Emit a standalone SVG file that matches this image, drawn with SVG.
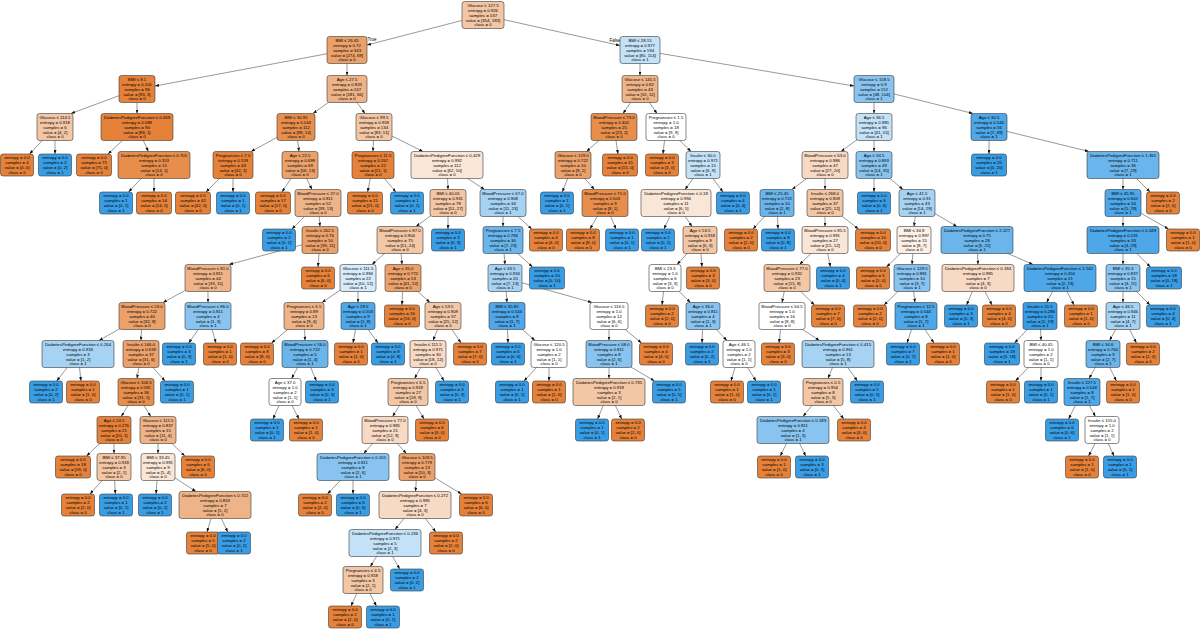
<svg xmlns="http://www.w3.org/2000/svg" width="1200" height="629" viewBox="0 0 1200 629">
<style>
rect{rx:2.5px;stroke:#3a3a3a;stroke-width:0.6}
text{font-family:"Liberation Sans",Arial,sans-serif;font-size:4.3px;text-anchor:middle;fill:#000}
.e line{stroke:#333;stroke-width:0.5;marker-end:url(#ah)}
.O10 rect{fill:#e58139}.O9 rect{fill:#e88e4d}.O75 rect{fill:#eca06a}.O6 rect{fill:#efb388}.O45 rect{fill:#f3c6a6}.O3 rect{fill:#f7d9c4}.O2 rect{fill:#fae6d7}.O1 rect{fill:#fcf0e7}.W rect{fill:#fff}
.B10 rect{fill:#399de5}.B9 rect{fill:#4da7e8}.B75 rect{fill:#6ab6ec}.B6 rect{fill:#88c4ef}.B45 rect{fill:#a6d3f3}.B3 rect{fill:#c4e2f7}.B2 rect{fill:#d7ebfa}
.lbl{font-size:4.5px}
</style>
<defs><marker id="ah" markerUnits="userSpaceOnUse" markerWidth="4" markerHeight="3" refX="4" refY="1.5" orient="auto"><path d="M0,0L4,1.5L0,3z" fill="#111"/></marker></defs>
<rect x="0" y="0" width="1200" height="629" style="fill:#fff;stroke:none;rx:0"/>
<g id="connectors" class="e">
<line x1="483" y1="15" x2="367" y2="45"/><line x1="483" y1="15" x2="620" y2="45.5"/>
<line x1="347" y1="50" x2="155" y2="86"/><line x1="347" y1="50" x2="347" y2="75.5"/>
<line x1="640" y1="50" x2="640" y2="75.5"/><line x1="640" y1="50" x2="854" y2="86"/>
<line x1="137" y1="89" x2="71" y2="113.5"/><line x1="137" y1="89" x2="137" y2="113.5"/>
<line x1="347" y1="89" x2="313" y2="113.5"/><line x1="347" y1="89" x2="365" y2="113.5"/>
<line x1="640" y1="89" x2="623" y2="113.5"/><line x1="640" y1="89" x2="657" y2="113.5"/>
<line x1="874" y1="89" x2="874" y2="113.5"/><line x1="874" y1="89" x2="973" y2="113.5"/>
<line x1="55" y1="127" x2="29.5" y2="154"/><line x1="55" y1="127" x2="55" y2="154"/>
<line x1="137" y1="127" x2="108" y2="154"/><line x1="137" y1="127" x2="148.4" y2="151.5"/>
<line x1="296" y1="127" x2="251" y2="151.5"/><line x1="296" y1="127" x2="299" y2="151.5"/>
<line x1="374" y1="127" x2="373" y2="151.5"/><line x1="374" y1="127" x2="423" y2="151.5"/>
<line x1="614" y1="127" x2="586.5" y2="151.5"/><line x1="614" y1="127" x2="618" y2="154"/>
<line x1="666" y1="127" x2="663" y2="154"/><line x1="666" y1="127" x2="691" y2="151.5"/>
<line x1="874" y1="127" x2="841" y2="151.5"/><line x1="874" y1="127" x2="874" y2="151.5"/>
<line x1="989" y1="127" x2="989" y2="154"/><line x1="989" y1="127" x2="1089" y2="151.5"/>
<line x1="154" y1="165" x2="128.5" y2="192"/><line x1="154" y1="165" x2="154" y2="192"/>
<line x1="233" y1="165" x2="206" y2="192"/><line x1="233" y1="165" x2="233" y2="192"/>
<line x1="300" y1="165" x2="282" y2="192"/><line x1="300" y1="165" x2="312" y2="189.5"/>
<line x1="373" y1="165" x2="367.6" y2="192"/><line x1="373" y1="165" x2="395.8" y2="192"/>
<line x1="447" y1="165" x2="448" y2="189.5"/><line x1="447" y1="165" x2="484.5" y2="189.5"/>
<line x1="573" y1="165" x2="562.3" y2="192"/><line x1="573" y1="165" x2="594.4" y2="189.5"/>
<line x1="703" y1="165" x2="685" y2="189.5"/><line x1="703" y1="165" x2="723" y2="192"/>
<line x1="825" y1="165" x2="792" y2="189.5"/><line x1="825" y1="165" x2="825" y2="189.5"/>
<line x1="874" y1="165" x2="874" y2="192"/><line x1="874" y1="165" x2="903" y2="189.5"/>
<line x1="1123" y1="165" x2="1123" y2="189.5"/><line x1="1123" y1="165" x2="1150" y2="192"/>
<line x1="318" y1="203" x2="292" y2="229"/><line x1="318" y1="203" x2="320" y2="226.5"/>
<line x1="448" y1="203" x2="416" y2="226.5"/><line x1="448" y1="203" x2="448" y2="229"/>
<line x1="503" y1="203" x2="503" y2="226.5"/><line x1="503" y1="203" x2="531.8" y2="229"/>
<line x1="605" y1="203" x2="590" y2="229"/><line x1="605" y1="203" x2="616" y2="229"/>
<line x1="676" y1="203" x2="664" y2="229"/><line x1="676" y1="203" x2="692" y2="226.5"/>
<line x1="777" y1="203" x2="753" y2="229"/><line x1="777" y1="203" x2="778" y2="229"/>
<line x1="825" y1="203" x2="825" y2="226.5"/><line x1="825" y1="203" x2="858.5" y2="229"/>
<line x1="917" y1="203" x2="914" y2="226.5"/><line x1="917" y1="203" x2="957" y2="226.5"/>
<line x1="1123" y1="203" x2="1123" y2="226.5"/><line x1="1123" y1="203" x2="1168.5" y2="229"/>
<line x1="320" y1="240" x2="229" y2="264.5"/><line x1="320" y1="240" x2="318" y2="267"/>
<line x1="400" y1="240" x2="372" y2="264.5"/><line x1="400" y1="240" x2="402" y2="264.5"/>
<line x1="503" y1="240" x2="505" y2="264.5"/><line x1="503" y1="240" x2="532.5" y2="267"/>
<line x1="700" y1="240" x2="677" y2="264.5"/><line x1="700" y1="240" x2="702" y2="267"/>
<line x1="825" y1="240" x2="799.5" y2="264.5"/><line x1="825" y1="240" x2="830.4" y2="267"/>
<line x1="914" y1="240" x2="886.5" y2="267"/><line x1="914" y1="240" x2="912" y2="264.5"/>
<line x1="977" y1="240" x2="978" y2="264.5"/><line x1="977" y1="240" x2="1033" y2="264.5"/>
<line x1="1123" y1="240" x2="1123" y2="264.5"/><line x1="1123" y1="240" x2="1150.5" y2="267"/>
<line x1="208" y1="278" x2="163" y2="302.5"/><line x1="208" y1="278" x2="208" y2="302.5"/>
<line x1="358" y1="278" x2="322" y2="302.5"/><line x1="358" y1="278" x2="358" y2="302.5"/>
<line x1="403" y1="278" x2="402" y2="305"/><line x1="403" y1="278" x2="430" y2="302.5"/>
<line x1="505" y1="278" x2="507" y2="302.5"/><line x1="505" y1="278" x2="592" y2="302.5"/>
<line x1="665" y1="278" x2="662" y2="305"/><line x1="665" y1="278" x2="690.5" y2="302.5"/>
<line x1="787" y1="278" x2="782" y2="302.5"/><line x1="787" y1="278" x2="814.5" y2="305"/>
<line x1="912" y1="278" x2="884" y2="305"/><line x1="912" y1="278" x2="915" y2="302.5"/>
<line x1="978" y1="278" x2="966.6" y2="305"/><line x1="978" y1="278" x2="992" y2="305"/>
<line x1="1060" y1="278" x2="1046.6" y2="302.5"/><line x1="1060" y1="278" x2="1074" y2="305"/>
<line x1="1123" y1="278" x2="1123" y2="302.5"/><line x1="1123" y1="278" x2="1150" y2="305"/>
<line x1="142" y1="316" x2="99" y2="340.5"/><line x1="142" y1="316" x2="141" y2="340.5"/>
<line x1="208" y1="316" x2="188.6" y2="343"/><line x1="208" y1="316" x2="216" y2="343"/>
<line x1="304" y1="316" x2="271.5" y2="343"/><line x1="304" y1="316" x2="305" y2="340.5"/>
<line x1="358" y1="316" x2="353" y2="343"/><line x1="358" y1="316" x2="378" y2="343"/>
<line x1="443" y1="316" x2="433" y2="340.5"/><line x1="443" y1="316" x2="461" y2="343"/>
<line x1="507" y1="316" x2="508" y2="343"/><line x1="507" y1="316" x2="535" y2="340.5"/>
<line x1="609" y1="316" x2="609" y2="340.5"/><line x1="609" y1="316" x2="641.5" y2="343"/>
<line x1="703" y1="316" x2="702" y2="343"/><line x1="703" y1="316" x2="727" y2="340.5"/>
<line x1="782" y1="316" x2="779" y2="343"/><line x1="782" y1="316" x2="819.5" y2="340.5"/>
<line x1="916" y1="316" x2="907" y2="343"/><line x1="916" y1="316" x2="934" y2="343"/>
<line x1="1040" y1="316" x2="1014.5" y2="343"/><line x1="1040" y1="316" x2="1041" y2="340.5"/>
<line x1="1123" y1="316" x2="1109.6" y2="340.5"/><line x1="1123" y1="316" x2="1136.4" y2="343"/>
<line x1="78" y1="354" x2="56.6" y2="381"/><line x1="78" y1="354" x2="81" y2="381"/>
<line x1="141" y1="354" x2="137" y2="378.5"/><line x1="141" y1="354" x2="165" y2="381"/>
<line x1="305" y1="354" x2="291.6" y2="378.5"/><line x1="305" y1="354" x2="316.4" y2="381"/>
<line x1="428" y1="354" x2="414.6" y2="378.5"/><line x1="428" y1="354" x2="444" y2="381"/>
<line x1="549" y1="354" x2="524" y2="381"/><line x1="549" y1="354" x2="549" y2="381"/>
<line x1="609" y1="354" x2="609" y2="378.5"/><line x1="609" y1="354" x2="654.5" y2="381"/>
<line x1="739" y1="354" x2="731" y2="381"/><line x1="739" y1="354" x2="756" y2="381"/>
<line x1="838" y1="354" x2="828" y2="378.5"/><line x1="838" y1="354" x2="857.4" y2="381"/>
<line x1="1041" y1="354" x2="1015.5" y2="381"/><line x1="1041" y1="354" x2="1041" y2="381"/>
<line x1="1103" y1="354" x2="1089" y2="378.5"/><line x1="1103" y1="354" x2="1116.4" y2="381"/>
<line x1="136" y1="392" x2="121.3" y2="416.5"/><line x1="136" y1="392" x2="150.7" y2="416.5"/>
<line x1="285" y1="392" x2="273" y2="419"/><line x1="285" y1="392" x2="299" y2="419"/>
<line x1="408" y1="392" x2="392.6" y2="416.5"/><line x1="408" y1="392" x2="424" y2="419"/>
<line x1="609" y1="392" x2="597.6" y2="419"/><line x1="609" y1="392" x2="621.7" y2="419"/>
<line x1="823" y1="392" x2="803" y2="416.5"/><line x1="823" y1="392" x2="843.8" y2="419"/>
<line x1="1082" y1="392" x2="1068.6" y2="419"/><line x1="1082" y1="392" x2="1095.4" y2="416.5"/>
<line x1="114" y1="430" x2="86.5" y2="456"/><line x1="114" y1="430" x2="114" y2="453.5"/>
<line x1="158" y1="430" x2="158" y2="453.5"/><line x1="158" y1="430" x2="184.8" y2="456"/>
<line x1="385" y1="430" x2="363.6" y2="453.5"/><line x1="385" y1="430" x2="406.4" y2="453.5"/>
<line x1="793" y1="430" x2="780.3" y2="456"/><line x1="793" y1="430" x2="805.7" y2="456"/>
<line x1="1102" y1="430" x2="1088.6" y2="456"/><line x1="1102" y1="430" x2="1114" y2="456"/>
<line x1="114" y1="467" x2="90" y2="494"/><line x1="114" y1="467" x2="115.3" y2="494"/>
<line x1="158" y1="467" x2="156" y2="494"/><line x1="158" y1="467" x2="196" y2="491.5"/>
<line x1="353" y1="467" x2="327.5" y2="494"/><line x1="353" y1="467" x2="353" y2="494"/>
<line x1="417" y1="467" x2="415.6" y2="491.5"/><line x1="417" y1="467" x2="461.5" y2="494"/>
<line x1="215" y1="505" x2="207" y2="532"/><line x1="215" y1="505" x2="227.7" y2="532"/>
<line x1="415" y1="505" x2="395" y2="529.5"/><line x1="415" y1="505" x2="435.8" y2="532"/>
<line x1="385" y1="543" x2="370.3" y2="566.5"/><line x1="385" y1="543" x2="399.7" y2="569"/>
<line x1="363" y1="580" x2="351" y2="606"/><line x1="363" y1="580" x2="376.4" y2="606"/>
</g>
<text class="lbl" x="372" y="41">True</text>
<text class="lbl" x="615" y="42">False</text>
<g id="nodes">
<g id="n0" class="O45" transform="translate(483,15)"><rect x="-21" y="-13.5" width="42" height="27"/><text><tspan x="0" y="-8.2">Glucose ≤ 127.5</tspan><tspan x="0" y="-3.3">entropy = 0.926</tspan><tspan x="0" y="1.6">samples = 537</tspan><tspan x="0" y="6.5">value = [354, 183]</tspan><tspan x="0" y="11.4">class = 0</tspan></text></g>
<g id="n1" class="O75" transform="translate(347,50)"><rect x="-20" y="-13.5" width="40" height="27"/><text><tspan x="0" y="-8.2">BMI ≤ 26.45</tspan><tspan x="0" y="-3.3">entropy = 0.72</tspan><tspan x="0" y="1.6">samples = 343</tspan><tspan x="0" y="6.5">value = [274, 69]</tspan><tspan x="0" y="11.4">class = 0</tspan></text></g>
<g id="n2" class="B3" transform="translate(640,50)"><rect x="-20" y="-13.5" width="40" height="27"/><text><tspan x="0" y="-8.2">BMI ≤ 28.15</tspan><tspan x="0" y="-3.3">entropy = 0.977</tspan><tspan x="0" y="1.6">samples = 194</tspan><tspan x="0" y="6.5">value = [80, 114]</tspan><tspan x="0" y="11.4">class = 1</tspan></text></g>
<g id="n3" class="O10" transform="translate(137,89)"><rect x="-18" y="-13.5" width="36" height="27"/><text><tspan x="0" y="-8.2">BMI ≤ 9.1</tspan><tspan x="0" y="-3.3">entropy = 0.201</tspan><tspan x="0" y="1.6">samples = 96</tspan><tspan x="0" y="6.5">value = [93, 3]</tspan><tspan x="0" y="11.4">class = 0</tspan></text></g>
<g id="n4" class="O6" transform="translate(347,89)"><rect x="-20" y="-13.5" width="40" height="27"/><text><tspan x="0" y="-8.2">Age ≤ 27.5</tspan><tspan x="0" y="-3.3">entropy = 0.833</tspan><tspan x="0" y="1.6">samples = 247</tspan><tspan x="0" y="6.5">value = [181, 66]</tspan><tspan x="0" y="11.4">class = 0</tspan></text></g>
<g id="n5" class="O6" transform="translate(640,89)"><rect x="-18" y="-13.5" width="36" height="27"/><text><tspan x="0" y="-8.2">Glucose ≤ 145.5</tspan><tspan x="0" y="-3.3">entropy = 0.82</tspan><tspan x="0" y="1.6">samples = 43</tspan><tspan x="0" y="6.5">value = [32, 11]</tspan><tspan x="0" y="11.4">class = 0</tspan></text></g>
<g id="n6" class="B6" transform="translate(874,89)"><rect x="-20" y="-13.5" width="40" height="27"/><text><tspan x="0" y="-8.2">Glucose ≤ 158.5</tspan><tspan x="0" y="-3.3">entropy = 0.9</tspan><tspan x="0" y="1.6">samples = 152</tspan><tspan x="0" y="6.5">value = [48, 104]</tspan><tspan x="0" y="11.4">class = 1</tspan></text></g>
<g id="n7" class="O45" transform="translate(55,127)"><rect x="-18" y="-13.5" width="36" height="27"/><text><tspan x="0" y="-8.2">Glucose ≤ 114.5</tspan><tspan x="0" y="-3.3">entropy = 0.918</tspan><tspan x="0" y="1.6">samples = 6</tspan><tspan x="0" y="6.5">value = [4, 2]</tspan><tspan x="0" y="11.4">class = 0</tspan></text></g>
<g id="n8" class="O10" transform="translate(137,127)"><rect x="-36" y="-13.5" width="72" height="27"/><text><tspan x="0" y="-8.2">DiabetesPedigreeFunction ≤ 0.669</tspan><tspan x="0" y="-3.3">entropy = 0.088</tspan><tspan x="0" y="1.6">samples = 90</tspan><tspan x="0" y="6.5">value = [89, 1]</tspan><tspan x="0" y="11.4">class = 0</tspan></text></g>
<g id="n9" class="O9" transform="translate(296,127)"><rect x="-19" y="-13.5" width="38" height="27"/><text><tspan x="0" y="-8.2">BMI ≤ 30.95</tspan><tspan x="0" y="-3.3">entropy = 0.544</tspan><tspan x="0" y="1.6">samples = 112</tspan><tspan x="0" y="6.5">value = [98, 14]</tspan><tspan x="0" y="11.4">class = 0</tspan></text></g>
<g id="n10" class="O45" transform="translate(374,127)"><rect x="-18" y="-13.5" width="36" height="27"/><text><tspan x="0" y="-8.2">Glucose ≤ 99.5</tspan><tspan x="0" y="-3.3">entropy = 0.958</tspan><tspan x="0" y="1.6">samples = 134</tspan><tspan x="0" y="6.5">value = [83, 51]</tspan><tspan x="0" y="11.4">class = 0</tspan></text></g>
<g id="n11" class="O9" transform="translate(614,127)"><rect x="-23" y="-13.5" width="46" height="27"/><text><tspan x="0" y="-8.2">BloodPressure ≤ 73.0</tspan><tspan x="0" y="-3.3">entropy = 0.402</tspan><tspan x="0" y="1.6">samples = 25</tspan><tspan x="0" y="6.5">value = [23, 2]</tspan><tspan x="0" y="11.4">class = 0</tspan></text></g>
<g id="n12" class="W" transform="translate(666,127)"><rect x="-20" y="-13.5" width="40" height="27"/><text><tspan x="0" y="-8.2">Pregnancies ≤ 1.5</tspan><tspan x="0" y="-3.3">entropy = 1.0</tspan><tspan x="0" y="1.6">samples = 18</tspan><tspan x="0" y="6.5">value = [9, 9]</tspan><tspan x="0" y="11.4">class = 0</tspan></text></g>
<g id="n13" class="B3" transform="translate(874,127)"><rect x="-18" y="-13.5" width="36" height="27"/><text><tspan x="0" y="-8.2">Age ≤ 36.5</tspan><tspan x="0" y="-3.3">entropy = 0.985</tspan><tspan x="0" y="1.6">samples = 96</tspan><tspan x="0" y="6.5">value = [41, 55]</tspan><tspan x="0" y="11.4">class = 1</tspan></text></g>
<g id="n14" class="B9" transform="translate(989,127)"><rect x="-18" y="-13.5" width="36" height="27"/><text><tspan x="0" y="-8.2">Age ≤ 30.5</tspan><tspan x="0" y="-3.3">entropy = 0.544</tspan><tspan x="0" y="1.6">samples = 56</tspan><tspan x="0" y="6.5">value = [7, 49]</tspan><tspan x="0" y="11.4">class = 1</tspan></text></g>
<g id="n15" class="O10" transform="translate(17,165)"><rect x="-16.5" y="-11" width="33" height="22"/><text><tspan x="0" y="-5.9">entropy = 0.0</tspan><tspan x="0" y="-1">samples = 4</tspan><tspan x="0" y="3.9">value = [4, 0]</tspan><tspan x="0" y="8.8">class = 0</tspan></text></g>
<g id="n16" class="B10" transform="translate(55,165)"><rect x="-16.5" y="-11" width="33" height="22"/><text><tspan x="0" y="-5.9">entropy = 0.0</tspan><tspan x="0" y="-1">samples = 2</tspan><tspan x="0" y="3.9">value = [0, 2]</tspan><tspan x="0" y="8.8">class = 1</tspan></text></g>
<g id="n17" class="O10" transform="translate(94,165)"><rect x="-17.5" y="-11" width="35" height="22"/><text><tspan x="0" y="-5.9">entropy = 0.0</tspan><tspan x="0" y="-1">samples = 75</tspan><tspan x="0" y="3.9">value = [75, 0]</tspan><tspan x="0" y="8.8">class = 0</tspan></text></g>
<g id="n18" class="O9" transform="translate(154,165)"><rect x="-36" y="-13.5" width="72" height="27"/><text><tspan x="0" y="-8.2">DiabetesPedigreeFunction ≤ 0.705</tspan><tspan x="0" y="-3.3">entropy = 0.353</tspan><tspan x="0" y="1.6">samples = 15</tspan><tspan x="0" y="6.5">value = [14, 1]</tspan><tspan x="0" y="11.4">class = 0</tspan></text></g>
<g id="n19" class="O10" transform="translate(233,165)"><rect x="-20" y="-13.5" width="40" height="27"/><text><tspan x="0" y="-8.2">Pregnancies ≤ 7.0</tspan><tspan x="0" y="-3.3">entropy = 0.159</tspan><tspan x="0" y="1.6">samples = 43</tspan><tspan x="0" y="6.5">value = [42, 1]</tspan><tspan x="0" y="11.4">class = 0</tspan></text></g>
<g id="n20" class="O75" transform="translate(300,165)"><rect x="-18" y="-13.5" width="36" height="27"/><text><tspan x="0" y="-8.2">Age ≤ 22.5</tspan><tspan x="0" y="-3.3">entropy = 0.699</tspan><tspan x="0" y="1.6">samples = 69</tspan><tspan x="0" y="6.5">value = [56, 13]</tspan><tspan x="0" y="11.4">class = 0</tspan></text></g>
<g id="n21" class="O10" transform="translate(373,165)"><rect x="-21" y="-13.5" width="42" height="27"/><text><tspan x="0" y="-8.2">Pregnancies ≤ 11.5</tspan><tspan x="0" y="-3.3">entropy = 0.267</tspan><tspan x="0" y="1.6">samples = 22</tspan><tspan x="0" y="6.5">value = [21, 1]</tspan><tspan x="0" y="11.4">class = 0</tspan></text></g>
<g id="n22" class="O2" transform="translate(447,165)"><rect x="-36" y="-13.5" width="72" height="27"/><text><tspan x="0" y="-8.2">DiabetesPedigreeFunction ≤ 0.429</tspan><tspan x="0" y="-3.3">entropy = 0.992</tspan><tspan x="0" y="1.6">samples = 112</tspan><tspan x="0" y="6.5">value = [62, 50]</tspan><tspan x="0" y="11.4">class = 0</tspan></text></g>
<g id="n23" class="O75" transform="translate(573,165)"><rect x="-18" y="-13.5" width="36" height="27"/><text><tspan x="0" y="-8.2">Glucose ≤ 129.0</tspan><tspan x="0" y="-3.3">entropy = 0.722</tspan><tspan x="0" y="1.6">samples = 10</tspan><tspan x="0" y="6.5">value = [8, 2]</tspan><tspan x="0" y="11.4">class = 0</tspan></text></g>
<g id="n24" class="O10" transform="translate(620,165)"><rect x="-17.5" y="-11" width="35" height="22"/><text><tspan x="0" y="-5.9">entropy = 0.0</tspan><tspan x="0" y="-1">samples = 15</tspan><tspan x="0" y="3.9">value = [15, 0]</tspan><tspan x="0" y="8.8">class = 0</tspan></text></g>
<g id="n25" class="O10" transform="translate(662,165)"><rect x="-16.5" y="-11" width="33" height="22"/><text><tspan x="0" y="-5.9">entropy = 0.0</tspan><tspan x="0" y="-1">samples = 3</tspan><tspan x="0" y="3.9">value = [3, 0]</tspan><tspan x="0" y="8.8">class = 0</tspan></text></g>
<g id="n26" class="B3" transform="translate(703,165)"><rect x="-17" y="-13.5" width="34" height="27"/><text><tspan x="0" y="-8.2">Insulin ≤ 60.0</tspan><tspan x="0" y="-3.3">entropy = 0.971</tspan><tspan x="0" y="1.6">samples = 15</tspan><tspan x="0" y="6.5">value = [6, 9]</tspan><tspan x="0" y="11.4">class = 1</tspan></text></g>
<g id="n27" class="O3" transform="translate(825,165)"><rect x="-23" y="-13.5" width="46" height="27"/><text><tspan x="0" y="-8.2">BloodPressure ≤ 63.0</tspan><tspan x="0" y="-3.3">entropy = 0.986</tspan><tspan x="0" y="1.6">samples = 47</tspan><tspan x="0" y="6.5">value = [27, 20]</tspan><tspan x="0" y="11.4">class = 0</tspan></text></g>
<g id="n28" class="B6" transform="translate(874,165)"><rect x="-18" y="-13.5" width="36" height="27"/><text><tspan x="0" y="-8.2">Age ≤ 34.5</tspan><tspan x="0" y="-3.3">entropy = 0.863</tspan><tspan x="0" y="1.6">samples = 49</tspan><tspan x="0" y="6.5">value = [14, 35]</tspan><tspan x="0" y="11.4">class = 1</tspan></text></g>
<g id="n29" class="B10" transform="translate(989,165)"><rect x="-17.5" y="-11" width="35" height="22"/><text><tspan x="0" y="-5.9">entropy = 0.0</tspan><tspan x="0" y="-1">samples = 20</tspan><tspan x="0" y="3.9">value = [0, 20]</tspan><tspan x="0" y="8.8">class = 1</tspan></text></g>
<g id="n30" class="B75" transform="translate(1123,165)"><rect x="-36" y="-13.5" width="72" height="27"/><text><tspan x="0" y="-8.2">DiabetesPedigreeFunction ≤ 1.361</tspan><tspan x="0" y="-3.3">entropy = 0.711</tspan><tspan x="0" y="1.6">samples = 36</tspan><tspan x="0" y="6.5">value = [7, 29]</tspan><tspan x="0" y="11.4">class = 1</tspan></text></g>
<g id="n31" class="B10" transform="translate(116,203)"><rect x="-16.5" y="-11" width="33" height="22"/><text><tspan x="0" y="-5.9">entropy = 0.0</tspan><tspan x="0" y="-1">samples = 1</tspan><tspan x="0" y="3.9">value = [0, 1]</tspan><tspan x="0" y="8.8">class = 1</tspan></text></g>
<g id="n32" class="O10" transform="translate(154,203)"><rect x="-17.5" y="-11" width="35" height="22"/><text><tspan x="0" y="-5.9">entropy = 0.0</tspan><tspan x="0" y="-1">samples = 14</tspan><tspan x="0" y="3.9">value = [14, 0]</tspan><tspan x="0" y="8.8">class = 0</tspan></text></g>
<g id="n33" class="O10" transform="translate(193,203)"><rect x="-17.5" y="-11" width="35" height="22"/><text><tspan x="0" y="-5.9">entropy = 0.0</tspan><tspan x="0" y="-1">samples = 42</tspan><tspan x="0" y="3.9">value = [42, 0]</tspan><tspan x="0" y="8.8">class = 0</tspan></text></g>
<g id="n34" class="B10" transform="translate(233,203)"><rect x="-16.5" y="-11" width="33" height="22"/><text><tspan x="0" y="-5.9">entropy = 0.0</tspan><tspan x="0" y="-1">samples = 1</tspan><tspan x="0" y="3.9">value = [0, 1]</tspan><tspan x="0" y="8.8">class = 1</tspan></text></g>
<g id="n35" class="O10" transform="translate(273,203)"><rect x="-17.5" y="-11" width="35" height="22"/><text><tspan x="0" y="-5.9">entropy = 0.0</tspan><tspan x="0" y="-1">samples = 17</tspan><tspan x="0" y="3.9">value = [17, 0]</tspan><tspan x="0" y="8.8">class = 0</tspan></text></g>
<g id="n36" class="O6" transform="translate(318,203)"><rect x="-23" y="-13.5" width="46" height="27"/><text><tspan x="0" y="-8.2">BloodPressure ≤ 37.0</tspan><tspan x="0" y="-3.3">entropy = 0.811</tspan><tspan x="0" y="1.6">samples = 52</tspan><tspan x="0" y="6.5">value = [39, 13]</tspan><tspan x="0" y="11.4">class = 0</tspan></text></g>
<g id="n37" class="O10" transform="translate(365,203)"><rect x="-17.5" y="-11" width="35" height="22"/><text><tspan x="0" y="-5.9">entropy = 0.0</tspan><tspan x="0" y="-1">samples = 21</tspan><tspan x="0" y="3.9">value = [21, 0]</tspan><tspan x="0" y="8.8">class = 0</tspan></text></g>
<g id="n38" class="B10" transform="translate(407,203)"><rect x="-16.5" y="-11" width="33" height="22"/><text><tspan x="0" y="-5.9">entropy = 0.0</tspan><tspan x="0" y="-1">samples = 1</tspan><tspan x="0" y="3.9">value = [0, 1]</tspan><tspan x="0" y="8.8">class = 1</tspan></text></g>
<g id="n39" class="O45" transform="translate(448,203)"><rect x="-18" y="-13.5" width="36" height="27"/><text><tspan x="0" y="-8.2">BMI ≤ 40.05</tspan><tspan x="0" y="-3.3">entropy = 0.931</tspan><tspan x="0" y="1.6">samples = 78</tspan><tspan x="0" y="6.5">value = [51, 27]</tspan><tspan x="0" y="11.4">class = 0</tspan></text></g>
<g id="n40" class="B45" transform="translate(503,203)"><rect x="-23" y="-13.5" width="46" height="27"/><text><tspan x="0" y="-8.2">BloodPressure ≤ 67.0</tspan><tspan x="0" y="-3.3">entropy = 0.908</tspan><tspan x="0" y="1.6">samples = 34</tspan><tspan x="0" y="6.5">value = [11, 23]</tspan><tspan x="0" y="11.4">class = 1</tspan></text></g>
<g id="n41" class="B10" transform="translate(557,203)"><rect x="-16.5" y="-11" width="33" height="22"/><text><tspan x="0" y="-5.9">entropy = 0.0</tspan><tspan x="0" y="-1">samples = 1</tspan><tspan x="0" y="3.9">value = [0, 1]</tspan><tspan x="0" y="8.8">class = 1</tspan></text></g>
<g id="n42" class="O9" transform="translate(605,203)"><rect x="-23" y="-13.5" width="46" height="27"/><text><tspan x="0" y="-8.2">BloodPressure ≤ 71.0</tspan><tspan x="0" y="-3.3">entropy = 0.503</tspan><tspan x="0" y="1.6">samples = 9</tspan><tspan x="0" y="6.5">value = [8, 1]</tspan><tspan x="0" y="11.4">class = 0</tspan></text></g>
<g id="n43" class="O2" transform="translate(676,203)"><rect x="-35" y="-13.5" width="70" height="27"/><text><tspan x="0" y="-8.2">DiabetesPedigreeFunction ≤ 0.18</tspan><tspan x="0" y="-3.3">entropy = 0.994</tspan><tspan x="0" y="1.6">samples = 11</tspan><tspan x="0" y="6.5">value = [6, 5]</tspan><tspan x="0" y="11.4">class = 0</tspan></text></g>
<g id="n44" class="B10" transform="translate(733,203)"><rect x="-16.5" y="-11" width="33" height="22"/><text><tspan x="0" y="-5.9">entropy = 0.0</tspan><tspan x="0" y="-1">samples = 4</tspan><tspan x="0" y="3.9">value = [0, 4]</tspan><tspan x="0" y="8.8">class = 1</tspan></text></g>
<g id="n45" class="B75" transform="translate(777,203)"><rect x="-17" y="-13.5" width="34" height="27"/><text><tspan x="0" y="-8.2">BMI ≤ 25.45</tspan><tspan x="0" y="-3.3">entropy = 0.722</tspan><tspan x="0" y="1.6">samples = 10</tspan><tspan x="0" y="6.5">value = [2, 8]</tspan><tspan x="0" y="11.4">class = 1</tspan></text></g>
<g id="n46" class="O45" transform="translate(825,203)"><rect x="-18" y="-13.5" width="36" height="27"/><text><tspan x="0" y="-8.2">Insulin ≤ 268.0</tspan><tspan x="0" y="-3.3">entropy = 0.909</tspan><tspan x="0" y="1.6">samples = 37</tspan><tspan x="0" y="6.5">value = [25, 12]</tspan><tspan x="0" y="11.4">class = 0</tspan></text></g>
<g id="n47" class="B10" transform="translate(874,203)"><rect x="-16.5" y="-11" width="33" height="22"/><text><tspan x="0" y="-5.9">entropy = 0.0</tspan><tspan x="0" y="-1">samples = 6</tspan><tspan x="0" y="3.9">value = [0, 6]</tspan><tspan x="0" y="8.8">class = 1</tspan></text></g>
<g id="n48" class="B45" transform="translate(917,203)"><rect x="-18" y="-13.5" width="36" height="27"/><text><tspan x="0" y="-8.2">Age ≤ 41.5</tspan><tspan x="0" y="-3.3">entropy = 0.91</tspan><tspan x="0" y="1.6">samples = 43</tspan><tspan x="0" y="6.5">value = [14, 29]</tspan><tspan x="0" y="11.4">class = 1</tspan></text></g>
<g id="n49" class="B9" transform="translate(1123,203)"><rect x="-18" y="-13.5" width="36" height="27"/><text><tspan x="0" y="-8.2">BMI ≤ 45.95</tspan><tspan x="0" y="-3.3">entropy = 0.602</tspan><tspan x="0" y="1.6">samples = 34</tspan><tspan x="0" y="6.5">value = [5, 29]</tspan><tspan x="0" y="11.4">class = 1</tspan></text></g>
<g id="n50" class="O10" transform="translate(1163,203)"><rect x="-16.5" y="-11" width="33" height="22"/><text><tspan x="0" y="-5.9">entropy = 0.0</tspan><tspan x="0" y="-1">samples = 2</tspan><tspan x="0" y="3.9">value = [2, 0]</tspan><tspan x="0" y="8.8">class = 0</tspan></text></g>
<g id="n51" class="B10" transform="translate(279,240)"><rect x="-16.5" y="-11" width="33" height="22"/><text><tspan x="0" y="-5.9">entropy = 0.0</tspan><tspan x="0" y="-1">samples = 2</tspan><tspan x="0" y="3.9">value = [0, 2]</tspan><tspan x="0" y="8.8">class = 1</tspan></text></g>
<g id="n52" class="O75" transform="translate(320,240)"><rect x="-18" y="-13.5" width="36" height="27"/><text><tspan x="0" y="-8.2">Insulin ≤ 262.5</tspan><tspan x="0" y="-3.3">entropy = 0.76</tspan><tspan x="0" y="1.6">samples = 50</tspan><tspan x="0" y="6.5">value = [39, 11]</tspan><tspan x="0" y="11.4">class = 0</tspan></text></g>
<g id="n53" class="O45" transform="translate(400,240)"><rect x="-23" y="-13.5" width="46" height="27"/><text><tspan x="0" y="-8.2">BloodPressure ≤ 87.0</tspan><tspan x="0" y="-3.3">entropy = 0.904</tspan><tspan x="0" y="1.6">samples = 75</tspan><tspan x="0" y="6.5">value = [51, 24]</tspan><tspan x="0" y="11.4">class = 0</tspan></text></g>
<g id="n54" class="B10" transform="translate(448,240)"><rect x="-16.5" y="-11" width="33" height="22"/><text><tspan x="0" y="-5.9">entropy = 0.0</tspan><tspan x="0" y="-1">samples = 3</tspan><tspan x="0" y="3.9">value = [0, 3]</tspan><tspan x="0" y="8.8">class = 1</tspan></text></g>
<g id="n55" class="B75" transform="translate(503,240)"><rect x="-20" y="-13.5" width="40" height="27"/><text><tspan x="0" y="-8.2">Pregnancies ≤ 7.5</tspan><tspan x="0" y="-3.3">entropy = 0.784</tspan><tspan x="0" y="1.6">samples = 30</tspan><tspan x="0" y="6.5">value = [7, 23]</tspan><tspan x="0" y="11.4">class = 1</tspan></text></g>
<g id="n56" class="O10" transform="translate(546,240)"><rect x="-16.5" y="-11" width="33" height="22"/><text><tspan x="0" y="-5.9">entropy = 0.0</tspan><tspan x="0" y="-1">samples = 4</tspan><tspan x="0" y="3.9">value = [4, 0]</tspan><tspan x="0" y="8.8">class = 0</tspan></text></g>
<g id="n57" class="O10" transform="translate(583,240)"><rect x="-16.5" y="-11" width="33" height="22"/><text><tspan x="0" y="-5.9">entropy = 0.0</tspan><tspan x="0" y="-1">samples = 8</tspan><tspan x="0" y="3.9">value = [8, 0]</tspan><tspan x="0" y="8.8">class = 0</tspan></text></g>
<g id="n58" class="B10" transform="translate(622,240)"><rect x="-16.5" y="-11" width="33" height="22"/><text><tspan x="0" y="-5.9">entropy = 0.0</tspan><tspan x="0" y="-1">samples = 1</tspan><tspan x="0" y="3.9">value = [0, 1]</tspan><tspan x="0" y="8.8">class = 1</tspan></text></g>
<g id="n59" class="B10" transform="translate(658,240)"><rect x="-16.5" y="-11" width="33" height="22"/><text><tspan x="0" y="-5.9">entropy = 0.0</tspan><tspan x="0" y="-1">samples = 2</tspan><tspan x="0" y="3.9">value = [0, 2]</tspan><tspan x="0" y="8.8">class = 1</tspan></text></g>
<g id="n60" class="O45" transform="translate(700,240)"><rect x="-17" y="-13.5" width="34" height="27"/><text><tspan x="0" y="-8.2">Age ≤ 53.5</tspan><tspan x="0" y="-3.3">entropy = 0.918</tspan><tspan x="0" y="1.6">samples = 9</tspan><tspan x="0" y="6.5">value = [6, 3]</tspan><tspan x="0" y="11.4">class = 0</tspan></text></g>
<g id="n61" class="O10" transform="translate(741,240)"><rect x="-16.5" y="-11" width="33" height="22"/><text><tspan x="0" y="-5.9">entropy = 0.0</tspan><tspan x="0" y="-1">samples = 2</tspan><tspan x="0" y="3.9">value = [2, 0]</tspan><tspan x="0" y="8.8">class = 0</tspan></text></g>
<g id="n62" class="B10" transform="translate(778,240)"><rect x="-16.5" y="-11" width="33" height="22"/><text><tspan x="0" y="-5.9">entropy = 0.0</tspan><tspan x="0" y="-1">samples = 8</tspan><tspan x="0" y="3.9">value = [0, 8]</tspan><tspan x="0" y="8.8">class = 1</tspan></text></g>
<g id="n63" class="O2" transform="translate(825,240)"><rect x="-23" y="-13.5" width="46" height="27"/><text><tspan x="0" y="-8.2">BloodPressure ≤ 85.5</tspan><tspan x="0" y="-3.3">entropy = 0.991</tspan><tspan x="0" y="1.6">samples = 27</tspan><tspan x="0" y="6.5">value = [15, 12]</tspan><tspan x="0" y="11.4">class = 0</tspan></text></g>
<g id="n64" class="O10" transform="translate(873,240)"><rect x="-17.5" y="-11" width="35" height="22"/><text><tspan x="0" y="-5.9">entropy = 0.0</tspan><tspan x="0" y="-1">samples = 10</tspan><tspan x="0" y="3.9">value = [10, 0]</tspan><tspan x="0" y="8.8">class = 0</tspan></text></g>
<g id="n65" class="O1" transform="translate(914,240)"><rect x="-17" y="-13.5" width="34" height="27"/><text><tspan x="0" y="-8.2">BMI ≤ 34.8</tspan><tspan x="0" y="-3.3">entropy = 0.997</tspan><tspan x="0" y="1.6">samples = 15</tspan><tspan x="0" y="6.5">value = [8, 7]</tspan><tspan x="0" y="11.4">class = 0</tspan></text></g>
<g id="n66" class="B75" transform="translate(977,240)"><rect x="-36" y="-13.5" width="72" height="27"/><text><tspan x="0" y="-8.2">DiabetesPedigreeFunction ≤ 2.227</tspan><tspan x="0" y="-3.3">entropy = 0.75</tspan><tspan x="0" y="1.6">samples = 28</tspan><tspan x="0" y="6.5">value = [6, 22]</tspan><tspan x="0" y="11.4">class = 1</tspan></text></g>
<g id="n67" class="B9" transform="translate(1123,240)"><rect x="-36" y="-13.5" width="72" height="27"/><text><tspan x="0" y="-8.2">DiabetesPedigreeFunction ≤ 0.349</tspan><tspan x="0" y="-3.3">entropy = 0.531</tspan><tspan x="0" y="1.6">samples = 33</tspan><tspan x="0" y="6.5">value = [4, 29]</tspan><tspan x="0" y="11.4">class = 1</tspan></text></g>
<g id="n68" class="O10" transform="translate(1183,240)"><rect x="-16.5" y="-11" width="33" height="22"/><text><tspan x="0" y="-5.9">entropy = 0.0</tspan><tspan x="0" y="-1">samples = 1</tspan><tspan x="0" y="3.9">value = [1, 0]</tspan><tspan x="0" y="8.8">class = 0</tspan></text></g>
<g id="n69" class="O6" transform="translate(208,278)"><rect x="-23" y="-13.5" width="46" height="27"/><text><tspan x="0" y="-8.2">BloodPressure ≤ 81.0</tspan><tspan x="0" y="-3.3">entropy = 0.811</tspan><tspan x="0" y="1.6">samples = 44</tspan><tspan x="0" y="6.5">value = [33, 11]</tspan><tspan x="0" y="11.4">class = 0</tspan></text></g>
<g id="n70" class="O10" transform="translate(318,278)"><rect x="-16.5" y="-11" width="33" height="22"/><text><tspan x="0" y="-5.9">entropy = 0.0</tspan><tspan x="0" y="-1">samples = 6</tspan><tspan x="0" y="3.9">value = [6, 0]</tspan><tspan x="0" y="8.8">class = 0</tspan></text></g>
<g id="n71" class="B2" transform="translate(358,278)"><rect x="-18" y="-13.5" width="36" height="27"/><text><tspan x="0" y="-8.2">Glucose ≤ 111.5</tspan><tspan x="0" y="-3.3">entropy = 0.994</tspan><tspan x="0" y="1.6">samples = 22</tspan><tspan x="0" y="6.5">value = [10, 12]</tspan><tspan x="0" y="11.4">class = 1</tspan></text></g>
<g id="n72" class="O75" transform="translate(403,278)"><rect x="-18" y="-13.5" width="36" height="27"/><text><tspan x="0" y="-8.2">Age ≤ 35.0</tspan><tspan x="0" y="-3.3">entropy = 0.772</tspan><tspan x="0" y="1.6">samples = 53</tspan><tspan x="0" y="6.5">value = [41, 12]</tspan><tspan x="0" y="11.4">class = 0</tspan></text></g>
<g id="n73" class="B45" transform="translate(505,278)"><rect x="-17" y="-13.5" width="34" height="27"/><text><tspan x="0" y="-8.2">Age ≤ 33.5</tspan><tspan x="0" y="-3.3">entropy = 0.934</tspan><tspan x="0" y="1.6">samples = 20</tspan><tspan x="0" y="6.5">value = [7, 13]</tspan><tspan x="0" y="11.4">class = 1</tspan></text></g>
<g id="n74" class="B10" transform="translate(547,278)"><rect x="-17.5" y="-11" width="35" height="22"/><text><tspan x="0" y="-5.9">entropy = 0.0</tspan><tspan x="0" y="-1">samples = 10</tspan><tspan x="0" y="3.9">value = [0, 10]</tspan><tspan x="0" y="8.8">class = 1</tspan></text></g>
<g id="n75" class="W" transform="translate(665,278)"><rect x="-16" y="-13.5" width="32" height="27"/><text><tspan x="0" y="-8.2">BMI ≤ 23.3</tspan><tspan x="0" y="-3.3">entropy = 1.0</tspan><tspan x="0" y="1.6">samples = 6</tspan><tspan x="0" y="6.5">value = [3, 3]</tspan><tspan x="0" y="11.4">class = 0</tspan></text></g>
<g id="n76" class="O10" transform="translate(703,278)"><rect x="-16.5" y="-11" width="33" height="22"/><text><tspan x="0" y="-5.9">entropy = 0.0</tspan><tspan x="0" y="-1">samples = 3</tspan><tspan x="0" y="3.9">value = [3, 0]</tspan><tspan x="0" y="8.8">class = 0</tspan></text></g>
<g id="n77" class="O45" transform="translate(787,278)"><rect x="-23" y="-13.5" width="46" height="27"/><text><tspan x="0" y="-8.2">BloodPressure ≤ 77.0</tspan><tspan x="0" y="-3.3">entropy = 0.932</tspan><tspan x="0" y="1.6">samples = 23</tspan><tspan x="0" y="6.5">value = [15, 8]</tspan><tspan x="0" y="11.4">class = 0</tspan></text></g>
<g id="n78" class="B10" transform="translate(833,278)"><rect x="-16.5" y="-11" width="33" height="22"/><text><tspan x="0" y="-5.9">entropy = 0.0</tspan><tspan x="0" y="-1">samples = 4</tspan><tspan x="0" y="3.9">value = [0, 4]</tspan><tspan x="0" y="8.8">class = 1</tspan></text></g>
<g id="n79" class="O10" transform="translate(873,278)"><rect x="-16.5" y="-11" width="33" height="22"/><text><tspan x="0" y="-5.9">entropy = 0.0</tspan><tspan x="0" y="-1">samples = 5</tspan><tspan x="0" y="3.9">value = [5, 0]</tspan><tspan x="0" y="8.8">class = 0</tspan></text></g>
<g id="n80" class="B6" transform="translate(912,278)"><rect x="-18" y="-13.5" width="36" height="27"/><text><tspan x="0" y="-8.2">Glucose ≤ 129.5</tspan><tspan x="0" y="-3.3">entropy = 0.881</tspan><tspan x="0" y="1.6">samples = 10</tspan><tspan x="0" y="6.5">value = [3, 7]</tspan><tspan x="0" y="11.4">class = 1</tspan></text></g>
<g id="n81" class="O3" transform="translate(978,278)"><rect x="-36" y="-13.5" width="72" height="27"/><text><tspan x="0" y="-8.2">DiabetesPedigreeFunction ≤ 0.184</tspan><tspan x="0" y="-3.3">entropy = 0.985</tspan><tspan x="0" y="1.6">samples = 7</tspan><tspan x="0" y="6.5">value = [4, 3]</tspan><tspan x="0" y="11.4">class = 0</tspan></text></g>
<g id="n82" class="B9" transform="translate(1060,278)"><rect x="-36" y="-13.5" width="72" height="27"/><text><tspan x="0" y="-8.2">DiabetesPedigreeFunction ≤ 1.542</tspan><tspan x="0" y="-3.3">entropy = 0.454</tspan><tspan x="0" y="1.6">samples = 21</tspan><tspan x="0" y="6.5">value = [2, 19]</tspan><tspan x="0" y="11.4">class = 1</tspan></text></g>
<g id="n83" class="B6" transform="translate(1123,278)"><rect x="-17" y="-13.5" width="34" height="27"/><text><tspan x="0" y="-8.2">BMI ≤ 35.3</tspan><tspan x="0" y="-3.3">entropy = 0.837</tspan><tspan x="0" y="1.6">samples = 15</tspan><tspan x="0" y="6.5">value = [4, 11]</tspan><tspan x="0" y="11.4">class = 1</tspan></text></g>
<g id="n84" class="B10" transform="translate(1164,278)"><rect x="-17.5" y="-11" width="35" height="22"/><text><tspan x="0" y="-5.9">entropy = 0.0</tspan><tspan x="0" y="-1">samples = 18</tspan><tspan x="0" y="3.9">value = [0, 18]</tspan><tspan x="0" y="8.8">class = 1</tspan></text></g>
<g id="n85" class="O75" transform="translate(142,316)"><rect x="-23" y="-13.5" width="46" height="27"/><text><tspan x="0" y="-8.2">BloodPressure ≤ 53.0</tspan><tspan x="0" y="-3.3">entropy = 0.722</tspan><tspan x="0" y="1.6">samples = 40</tspan><tspan x="0" y="6.5">value = [32, 8]</tspan><tspan x="0" y="11.4">class = 0</tspan></text></g>
<g id="n86" class="B6" transform="translate(208,316)"><rect x="-23" y="-13.5" width="46" height="27"/><text><tspan x="0" y="-8.2">BloodPressure ≤ 86.0</tspan><tspan x="0" y="-3.3">entropy = 0.811</tspan><tspan x="0" y="1.6">samples = 4</tspan><tspan x="0" y="6.5">value = [1, 3]</tspan><tspan x="0" y="11.4">class = 1</tspan></text></g>
<g id="n87" class="O6" transform="translate(304,316)"><rect x="-20" y="-13.5" width="40" height="27"/><text><tspan x="0" y="-8.2">Pregnancies ≤ 6.5</tspan><tspan x="0" y="-3.3">entropy = 0.89</tspan><tspan x="0" y="1.6">samples = 13</tspan><tspan x="0" y="6.5">value = [9, 4]</tspan><tspan x="0" y="11.4">class = 0</tspan></text></g>
<g id="n88" class="B9" transform="translate(358,316)"><rect x="-17" y="-13.5" width="34" height="27"/><text><tspan x="0" y="-8.2">Age ≤ 29.5</tspan><tspan x="0" y="-3.3">entropy = 0.503</tspan><tspan x="0" y="1.6">samples = 9</tspan><tspan x="0" y="6.5">value = [1, 8]</tspan><tspan x="0" y="11.4">class = 1</tspan></text></g>
<g id="n89" class="O10" transform="translate(402,316)"><rect x="-17.5" y="-11" width="35" height="22"/><text><tspan x="0" y="-5.9">entropy = 0.0</tspan><tspan x="0" y="-1">samples = 16</tspan><tspan x="0" y="3.9">value = [16, 0]</tspan><tspan x="0" y="8.8">class = 0</tspan></text></g>
<g id="n90" class="O45" transform="translate(443,316)"><rect x="-18" y="-13.5" width="36" height="27"/><text><tspan x="0" y="-8.2">Age ≤ 53.5</tspan><tspan x="0" y="-3.3">entropy = 0.909</tspan><tspan x="0" y="1.6">samples = 37</tspan><tspan x="0" y="6.5">value = [25, 12]</tspan><tspan x="0" y="11.4">class = 0</tspan></text></g>
<g id="n91" class="B9" transform="translate(507,316)"><rect x="-18" y="-13.5" width="36" height="27"/><text><tspan x="0" y="-8.2">BMI ≤ 35.85</tspan><tspan x="0" y="-3.3">entropy = 0.544</tspan><tspan x="0" y="1.6">samples = 8</tspan><tspan x="0" y="6.5">value = [1, 7]</tspan><tspan x="0" y="11.4">class = 1</tspan></text></g>
<g id="n92" class="W" transform="translate(609,316)"><rect x="-19" y="-13.5" width="38" height="27"/><text><tspan x="0" y="-8.2">Glucose ≤ 116.5</tspan><tspan x="0" y="-3.3">entropy = 1.0</tspan><tspan x="0" y="1.6">samples = 12</tspan><tspan x="0" y="6.5">value = [6, 6]</tspan><tspan x="0" y="11.4">class = 0</tspan></text></g>
<g id="n93" class="O10" transform="translate(662,316)"><rect x="-16.5" y="-11" width="33" height="22"/><text><tspan x="0" y="-5.9">entropy = 0.0</tspan><tspan x="0" y="-1">samples = 2</tspan><tspan x="0" y="3.9">value = [2, 0]</tspan><tspan x="0" y="8.8">class = 0</tspan></text></g>
<g id="n94" class="B6" transform="translate(703,316)"><rect x="-17" y="-13.5" width="34" height="27"/><text><tspan x="0" y="-8.2">Age ≤ 36.0</tspan><tspan x="0" y="-3.3">entropy = 0.811</tspan><tspan x="0" y="1.6">samples = 4</tspan><tspan x="0" y="6.5">value = [1, 3]</tspan><tspan x="0" y="11.4">class = 1</tspan></text></g>
<g id="n95" class="W" transform="translate(782,316)"><rect x="-23" y="-13.5" width="46" height="27"/><text><tspan x="0" y="-8.2">BloodPressure ≤ 64.5</tspan><tspan x="0" y="-3.3">entropy = 1.0</tspan><tspan x="0" y="1.6">samples = 16</tspan><tspan x="0" y="6.5">value = [8, 8]</tspan><tspan x="0" y="11.4">class = 0</tspan></text></g>
<g id="n96" class="O10" transform="translate(828,316)"><rect x="-16.5" y="-11" width="33" height="22"/><text><tspan x="0" y="-5.9">entropy = 0.0</tspan><tspan x="0" y="-1">samples = 7</tspan><tspan x="0" y="3.9">value = [7, 0]</tspan><tspan x="0" y="8.8">class = 0</tspan></text></g>
<g id="n97" class="O10" transform="translate(870,316)"><rect x="-16.5" y="-11" width="33" height="22"/><text><tspan x="0" y="-5.9">entropy = 0.0</tspan><tspan x="0" y="-1">samples = 2</tspan><tspan x="0" y="3.9">value = [2, 0]</tspan><tspan x="0" y="8.8">class = 0</tspan></text></g>
<g id="n98" class="B9" transform="translate(916,316)"><rect x="-21" y="-13.5" width="42" height="27"/><text><tspan x="0" y="-8.2">Pregnancies ≤ 12.5</tspan><tspan x="0" y="-3.3">entropy = 0.544</tspan><tspan x="0" y="1.6">samples = 8</tspan><tspan x="0" y="6.5">value = [1, 7]</tspan><tspan x="0" y="11.4">class = 1</tspan></text></g>
<g id="n99" class="B10" transform="translate(961,316)"><rect x="-16.5" y="-11" width="33" height="22"/><text><tspan x="0" y="-5.9">entropy = 0.0</tspan><tspan x="0" y="-1">samples = 3</tspan><tspan x="0" y="3.9">value = [0, 3]</tspan><tspan x="0" y="8.8">class = 1</tspan></text></g>
<g id="n100" class="O10" transform="translate(999,316)"><rect x="-16.5" y="-11" width="33" height="22"/><text><tspan x="0" y="-5.9">entropy = 0.0</tspan><tspan x="0" y="-1">samples = 4</tspan><tspan x="0" y="3.9">value = [4, 0]</tspan><tspan x="0" y="8.8">class = 0</tspan></text></g>
<g id="n101" class="B10" transform="translate(1040,316)"><rect x="-17" y="-13.5" width="34" height="27"/><text><tspan x="0" y="-8.2">Insulin ≤ 51.5</tspan><tspan x="0" y="-3.3">entropy = 0.286</tspan><tspan x="0" y="1.6">samples = 20</tspan><tspan x="0" y="6.5">value = [1, 19]</tspan><tspan x="0" y="11.4">class = 1</tspan></text></g>
<g id="n102" class="O10" transform="translate(1081,316)"><rect x="-16.5" y="-11" width="33" height="22"/><text><tspan x="0" y="-5.9">entropy = 0.0</tspan><tspan x="0" y="-1">samples = 1</tspan><tspan x="0" y="3.9">value = [1, 0]</tspan><tspan x="0" y="8.8">class = 0</tspan></text></g>
<g id="n103" class="B45" transform="translate(1123,316)"><rect x="-17" y="-13.5" width="34" height="27"/><text><tspan x="0" y="-8.2">Age ≤ 46.5</tspan><tspan x="0" y="-3.3">entropy = 0.946</tspan><tspan x="0" y="1.6">samples = 11</tspan><tspan x="0" y="6.5">value = [4, 7]</tspan><tspan x="0" y="11.4">class = 1</tspan></text></g>
<g id="n104" class="B10" transform="translate(1163,316)"><rect x="-16.5" y="-11" width="33" height="22"/><text><tspan x="0" y="-5.9">entropy = 0.0</tspan><tspan x="0" y="-1">samples = 4</tspan><tspan x="0" y="3.9">value = [0, 4]</tspan><tspan x="0" y="8.8">class = 1</tspan></text></g>
<g id="n105" class="B45" transform="translate(78,354)"><rect x="-36" y="-13.5" width="72" height="27"/><text><tspan x="0" y="-8.2">DiabetesPedigreeFunction ≤ 0.264</tspan><tspan x="0" y="-3.3">entropy = 0.918</tspan><tspan x="0" y="1.6">samples = 3</tspan><tspan x="0" y="6.5">value = [1, 2]</tspan><tspan x="0" y="11.4">class = 1</tspan></text></g>
<g id="n106" class="O75" transform="translate(141,354)"><rect x="-18" y="-13.5" width="36" height="27"/><text><tspan x="0" y="-8.2">Insulin ≤ 146.0</tspan><tspan x="0" y="-3.3">entropy = 0.639</tspan><tspan x="0" y="1.6">samples = 37</tspan><tspan x="0" y="6.5">value = [31, 6]</tspan><tspan x="0" y="11.4">class = 0</tspan></text></g>
<g id="n107" class="B10" transform="translate(179,354)"><rect x="-16.5" y="-11" width="33" height="22"/><text><tspan x="0" y="-5.9">entropy = 0.0</tspan><tspan x="0" y="-1">samples = 3</tspan><tspan x="0" y="3.9">value = [0, 3]</tspan><tspan x="0" y="8.8">class = 1</tspan></text></g>
<g id="n108" class="O10" transform="translate(220,354)"><rect x="-16.5" y="-11" width="33" height="22"/><text><tspan x="0" y="-5.9">entropy = 0.0</tspan><tspan x="0" y="-1">samples = 1</tspan><tspan x="0" y="3.9">value = [1, 0]</tspan><tspan x="0" y="8.8">class = 0</tspan></text></g>
<g id="n109" class="O10" transform="translate(257,354)"><rect x="-16.5" y="-11" width="33" height="22"/><text><tspan x="0" y="-5.9">entropy = 0.0</tspan><tspan x="0" y="-1">samples = 8</tspan><tspan x="0" y="3.9">value = [8, 0]</tspan><tspan x="0" y="8.8">class = 0</tspan></text></g>
<g id="n110" class="B75" transform="translate(305,354)"><rect x="-23" y="-13.5" width="46" height="27"/><text><tspan x="0" y="-8.2">BloodPressure ≤ 56.0</tspan><tspan x="0" y="-3.3">entropy = 0.722</tspan><tspan x="0" y="1.6">samples = 5</tspan><tspan x="0" y="6.5">value = [1, 4]</tspan><tspan x="0" y="11.4">class = 1</tspan></text></g>
<g id="n111" class="O10" transform="translate(351,354)"><rect x="-16.5" y="-11" width="33" height="22"/><text><tspan x="0" y="-5.9">entropy = 0.0</tspan><tspan x="0" y="-1">samples = 1</tspan><tspan x="0" y="3.9">value = [1, 0]</tspan><tspan x="0" y="8.8">class = 0</tspan></text></g>
<g id="n112" class="B10" transform="translate(388,354)"><rect x="-16.5" y="-11" width="33" height="22"/><text><tspan x="0" y="-5.9">entropy = 0.0</tspan><tspan x="0" y="-1">samples = 8</tspan><tspan x="0" y="3.9">value = [0, 8]</tspan><tspan x="0" y="8.8">class = 1</tspan></text></g>
<g id="n113" class="O3" transform="translate(428,354)"><rect x="-18" y="-13.5" width="36" height="27"/><text><tspan x="0" y="-8.2">Insulin ≤ 111.5</tspan><tspan x="0" y="-3.3">entropy = 0.971</tspan><tspan x="0" y="1.6">samples = 30</tspan><tspan x="0" y="6.5">value = [18, 12]</tspan><tspan x="0" y="11.4">class = 0</tspan></text></g>
<g id="n114" class="O10" transform="translate(470,354)"><rect x="-16.5" y="-11" width="33" height="22"/><text><tspan x="0" y="-5.9">entropy = 0.0</tspan><tspan x="0" y="-1">samples = 7</tspan><tspan x="0" y="3.9">value = [7, 0]</tspan><tspan x="0" y="8.8">class = 0</tspan></text></g>
<g id="n115" class="B10" transform="translate(508,354)"><rect x="-16.5" y="-11" width="33" height="22"/><text><tspan x="0" y="-5.9">entropy = 0.0</tspan><tspan x="0" y="-1">samples = 6</tspan><tspan x="0" y="3.9">value = [0, 6]</tspan><tspan x="0" y="8.8">class = 1</tspan></text></g>
<g id="n116" class="W" transform="translate(549,354)"><rect x="-18" y="-13.5" width="36" height="27"/><text><tspan x="0" y="-8.2">Glucose ≤ 120.5</tspan><tspan x="0" y="-3.3">entropy = 1.0</tspan><tspan x="0" y="1.6">samples = 2</tspan><tspan x="0" y="6.5">value = [1, 1]</tspan><tspan x="0" y="11.4">class = 0</tspan></text></g>
<g id="n117" class="B6" transform="translate(609,354)"><rect x="-23" y="-13.5" width="46" height="27"/><text><tspan x="0" y="-8.2">BloodPressure ≤ 68.0</tspan><tspan x="0" y="-3.3">entropy = 0.811</tspan><tspan x="0" y="1.6">samples = 8</tspan><tspan x="0" y="6.5">value = [2, 6]</tspan><tspan x="0" y="11.4">class = 1</tspan></text></g>
<g id="n118" class="O10" transform="translate(656,354)"><rect x="-16.5" y="-11" width="33" height="22"/><text><tspan x="0" y="-5.9">entropy = 0.0</tspan><tspan x="0" y="-1">samples = 4</tspan><tspan x="0" y="3.9">value = [4, 0]</tspan><tspan x="0" y="8.8">class = 0</tspan></text></g>
<g id="n119" class="B10" transform="translate(702,354)"><rect x="-16.5" y="-11" width="33" height="22"/><text><tspan x="0" y="-5.9">entropy = 0.0</tspan><tspan x="0" y="-1">samples = 2</tspan><tspan x="0" y="3.9">value = [0, 2]</tspan><tspan x="0" y="8.8">class = 1</tspan></text></g>
<g id="n120" class="W" transform="translate(739,354)"><rect x="-16" y="-13.5" width="32" height="27"/><text><tspan x="0" y="-8.2">Age ≤ 46.5</tspan><tspan x="0" y="-3.3">entropy = 1.0</tspan><tspan x="0" y="1.6">samples = 2</tspan><tspan x="0" y="6.5">value = [1, 1]</tspan><tspan x="0" y="11.4">class = 0</tspan></text></g>
<g id="n121" class="O10" transform="translate(778,354)"><rect x="-16.5" y="-11" width="33" height="22"/><text><tspan x="0" y="-5.9">entropy = 0.0</tspan><tspan x="0" y="-1">samples = 3</tspan><tspan x="0" y="3.9">value = [3, 0]</tspan><tspan x="0" y="8.8">class = 0</tspan></text></g>
<g id="n122" class="B45" transform="translate(838,354)"><rect x="-36" y="-13.5" width="72" height="27"/><text><tspan x="0" y="-8.2">DiabetesPedigreeFunction ≤ 0.415</tspan><tspan x="0" y="-3.3">entropy = 0.961</tspan><tspan x="0" y="1.6">samples = 13</tspan><tspan x="0" y="6.5">value = [5, 8]</tspan><tspan x="0" y="11.4">class = 1</tspan></text></g>
<g id="n123" class="B10" transform="translate(903,354)"><rect x="-16.5" y="-11" width="33" height="22"/><text><tspan x="0" y="-5.9">entropy = 0.0</tspan><tspan x="0" y="-1">samples = 7</tspan><tspan x="0" y="3.9">value = [0, 7]</tspan><tspan x="0" y="8.8">class = 1</tspan></text></g>
<g id="n124" class="O10" transform="translate(943,354)"><rect x="-16.5" y="-11" width="33" height="22"/><text><tspan x="0" y="-5.9">entropy = 0.0</tspan><tspan x="0" y="-1">samples = 1</tspan><tspan x="0" y="3.9">value = [1, 0]</tspan><tspan x="0" y="8.8">class = 0</tspan></text></g>
<g id="n125" class="B10" transform="translate(1002,354)"><rect x="-17.5" y="-11" width="35" height="22"/><text><tspan x="0" y="-5.9">entropy = 0.0</tspan><tspan x="0" y="-1">samples = 18</tspan><tspan x="0" y="3.9">value = [0, 18]</tspan><tspan x="0" y="8.8">class = 1</tspan></text></g>
<g id="n126" class="W" transform="translate(1041,354)"><rect x="-17" y="-13.5" width="34" height="27"/><text><tspan x="0" y="-8.2">BMI ≤ 40.45</tspan><tspan x="0" y="-3.3">entropy = 1.0</tspan><tspan x="0" y="1.6">samples = 2</tspan><tspan x="0" y="6.5">value = [1, 1]</tspan><tspan x="0" y="11.4">class = 0</tspan></text></g>
<g id="n127" class="B75" transform="translate(1103,354)"><rect x="-17" y="-13.5" width="34" height="27"/><text><tspan x="0" y="-8.2">BMI ≤ 34.6</tspan><tspan x="0" y="-3.3">entropy = 0.764</tspan><tspan x="0" y="1.6">samples = 9</tspan><tspan x="0" y="6.5">value = [2, 7]</tspan><tspan x="0" y="11.4">class = 1</tspan></text></g>
<g id="n128" class="O10" transform="translate(1143,354)"><rect x="-16.5" y="-11" width="33" height="22"/><text><tspan x="0" y="-5.9">entropy = 0.0</tspan><tspan x="0" y="-1">samples = 2</tspan><tspan x="0" y="3.9">value = [2, 0]</tspan><tspan x="0" y="8.8">class = 0</tspan></text></g>
<g id="n129" class="B10" transform="translate(46,392)"><rect x="-16.5" y="-11" width="33" height="22"/><text><tspan x="0" y="-5.9">entropy = 0.0</tspan><tspan x="0" y="-1">samples = 2</tspan><tspan x="0" y="3.9">value = [0, 2]</tspan><tspan x="0" y="8.8">class = 1</tspan></text></g>
<g id="n130" class="O10" transform="translate(83,392)"><rect x="-16.5" y="-11" width="33" height="22"/><text><tspan x="0" y="-5.9">entropy = 0.0</tspan><tspan x="0" y="-1">samples = 1</tspan><tspan x="0" y="3.9">value = [1, 0]</tspan><tspan x="0" y="8.8">class = 0</tspan></text></g>
<g id="n131" class="O9" transform="translate(136,392)"><rect x="-18" y="-13.5" width="36" height="27"/><text><tspan x="0" y="-8.2">Glucose ≤ 106.5</tspan><tspan x="0" y="-3.3">entropy = 0.581</tspan><tspan x="0" y="1.6">samples = 36</tspan><tspan x="0" y="6.5">value = [31, 5]</tspan><tspan x="0" y="11.4">class = 0</tspan></text></g>
<g id="n132" class="B10" transform="translate(177,392)"><rect x="-16.5" y="-11" width="33" height="22"/><text><tspan x="0" y="-5.9">entropy = 0.0</tspan><tspan x="0" y="-1">samples = 1</tspan><tspan x="0" y="3.9">value = [0, 1]</tspan><tspan x="0" y="8.8">class = 1</tspan></text></g>
<g id="n133" class="W" transform="translate(285,392)"><rect x="-16" y="-13.5" width="32" height="27"/><text><tspan x="0" y="-8.2">Age ≤ 37.0</tspan><tspan x="0" y="-3.3">entropy = 1.0</tspan><tspan x="0" y="1.6">samples = 2</tspan><tspan x="0" y="6.5">value = [1, 1]</tspan><tspan x="0" y="11.4">class = 0</tspan></text></g>
<g id="n134" class="B10" transform="translate(322,392)"><rect x="-16.5" y="-11" width="33" height="22"/><text><tspan x="0" y="-5.9">entropy = 0.0</tspan><tspan x="0" y="-1">samples = 3</tspan><tspan x="0" y="3.9">value = [0, 3]</tspan><tspan x="0" y="8.8">class = 1</tspan></text></g>
<g id="n135" class="O45" transform="translate(408,392)"><rect x="-20" y="-13.5" width="40" height="27"/><text><tspan x="0" y="-8.2">Pregnancies ≤ 6.5</tspan><tspan x="0" y="-3.3">entropy = 0.918</tspan><tspan x="0" y="1.6">samples = 27</tspan><tspan x="0" y="6.5">value = [18, 9]</tspan><tspan x="0" y="11.4">class = 0</tspan></text></g>
<g id="n136" class="B10" transform="translate(452,392)"><rect x="-16.5" y="-11" width="33" height="22"/><text><tspan x="0" y="-5.9">entropy = 0.0</tspan><tspan x="0" y="-1">samples = 3</tspan><tspan x="0" y="3.9">value = [0, 3]</tspan><tspan x="0" y="8.8">class = 1</tspan></text></g>
<g id="n137" class="B10" transform="translate(512,392)"><rect x="-16.5" y="-11" width="33" height="22"/><text><tspan x="0" y="-5.9">entropy = 0.0</tspan><tspan x="0" y="-1">samples = 1</tspan><tspan x="0" y="3.9">value = [0, 1]</tspan><tspan x="0" y="8.8">class = 1</tspan></text></g>
<g id="n138" class="O10" transform="translate(549,392)"><rect x="-16.5" y="-11" width="33" height="22"/><text><tspan x="0" y="-5.9">entropy = 0.0</tspan><tspan x="0" y="-1">samples = 1</tspan><tspan x="0" y="3.9">value = [1, 0]</tspan><tspan x="0" y="8.8">class = 0</tspan></text></g>
<g id="n139" class="O45" transform="translate(609,392)"><rect x="-36" y="-13.5" width="72" height="27"/><text><tspan x="0" y="-8.2">DiabetesPedigreeFunction ≤ 0.735</tspan><tspan x="0" y="-3.3">entropy = 0.918</tspan><tspan x="0" y="1.6">samples = 3</tspan><tspan x="0" y="6.5">value = [2, 1]</tspan><tspan x="0" y="11.4">class = 0</tspan></text></g>
<g id="n140" class="B10" transform="translate(669,392)"><rect x="-16.5" y="-11" width="33" height="22"/><text><tspan x="0" y="-5.9">entropy = 0.0</tspan><tspan x="0" y="-1">samples = 5</tspan><tspan x="0" y="3.9">value = [0, 5]</tspan><tspan x="0" y="8.8">class = 1</tspan></text></g>
<g id="n141" class="O10" transform="translate(727,392)"><rect x="-16.5" y="-11" width="33" height="22"/><text><tspan x="0" y="-5.9">entropy = 0.0</tspan><tspan x="0" y="-1">samples = 1</tspan><tspan x="0" y="3.9">value = [1, 0]</tspan><tspan x="0" y="8.8">class = 0</tspan></text></g>
<g id="n142" class="B10" transform="translate(764,392)"><rect x="-16.5" y="-11" width="33" height="22"/><text><tspan x="0" y="-5.9">entropy = 0.0</tspan><tspan x="0" y="-1">samples = 1</tspan><tspan x="0" y="3.9">value = [0, 1]</tspan><tspan x="0" y="8.8">class = 1</tspan></text></g>
<g id="n143" class="O45" transform="translate(823,392)"><rect x="-20" y="-13.5" width="40" height="27"/><text><tspan x="0" y="-8.2">Pregnancies ≤ 0.5</tspan><tspan x="0" y="-3.3">entropy = 0.954</tspan><tspan x="0" y="1.6">samples = 8</tspan><tspan x="0" y="6.5">value = [5, 3]</tspan><tspan x="0" y="11.4">class = 0</tspan></text></g>
<g id="n144" class="B10" transform="translate(867,392)"><rect x="-16.5" y="-11" width="33" height="22"/><text><tspan x="0" y="-5.9">entropy = 0.0</tspan><tspan x="0" y="-1">samples = 5</tspan><tspan x="0" y="3.9">value = [0, 5]</tspan><tspan x="0" y="8.8">class = 1</tspan></text></g>
<g id="n145" class="O10" transform="translate(1003,392)"><rect x="-16.5" y="-11" width="33" height="22"/><text><tspan x="0" y="-5.9">entropy = 0.0</tspan><tspan x="0" y="-1">samples = 1</tspan><tspan x="0" y="3.9">value = [1, 0]</tspan><tspan x="0" y="8.8">class = 0</tspan></text></g>
<g id="n146" class="B10" transform="translate(1041,392)"><rect x="-16.5" y="-11" width="33" height="22"/><text><tspan x="0" y="-5.9">entropy = 0.0</tspan><tspan x="0" y="-1">samples = 1</tspan><tspan x="0" y="3.9">value = [0, 1]</tspan><tspan x="0" y="8.8">class = 1</tspan></text></g>
<g id="n147" class="B9" transform="translate(1082,392)"><rect x="-18" y="-13.5" width="36" height="27"/><text><tspan x="0" y="-8.2">Insulin ≤ 127.5</tspan><tspan x="0" y="-3.3">entropy = 0.544</tspan><tspan x="0" y="1.6">samples = 8</tspan><tspan x="0" y="6.5">value = [1, 7]</tspan><tspan x="0" y="11.4">class = 1</tspan></text></g>
<g id="n148" class="O10" transform="translate(1123,392)"><rect x="-16.5" y="-11" width="33" height="22"/><text><tspan x="0" y="-5.9">entropy = 0.0</tspan><tspan x="0" y="-1">samples = 1</tspan><tspan x="0" y="3.9">value = [1, 0]</tspan><tspan x="0" y="8.8">class = 0</tspan></text></g>
<g id="n149" class="O10" transform="translate(114,430)"><rect x="-17" y="-13.5" width="34" height="27"/><text><tspan x="0" y="-8.2">Age ≤ 24.5</tspan><tspan x="0" y="-3.3">entropy = 0.276</tspan><tspan x="0" y="1.6">samples = 21</tspan><tspan x="0" y="6.5">value = [20, 1]</tspan><tspan x="0" y="11.4">class = 0</tspan></text></g>
<g id="n150" class="O6" transform="translate(158,430)"><rect x="-18" y="-13.5" width="36" height="27"/><text><tspan x="0" y="-8.2">Glucose ≤ 115.5</tspan><tspan x="0" y="-3.3">entropy = 0.837</tspan><tspan x="0" y="1.6">samples = 15</tspan><tspan x="0" y="6.5">value = [11, 4]</tspan><tspan x="0" y="11.4">class = 0</tspan></text></g>
<g id="n151" class="B10" transform="translate(267,430)"><rect x="-16.5" y="-11" width="33" height="22"/><text><tspan x="0" y="-5.9">entropy = 0.0</tspan><tspan x="0" y="-1">samples = 1</tspan><tspan x="0" y="3.9">value = [0, 1]</tspan><tspan x="0" y="8.8">class = 1</tspan></text></g>
<g id="n152" class="O10" transform="translate(306,430)"><rect x="-16.5" y="-11" width="33" height="22"/><text><tspan x="0" y="-5.9">entropy = 0.0</tspan><tspan x="0" y="-1">samples = 1</tspan><tspan x="0" y="3.9">value = [1, 0]</tspan><tspan x="0" y="8.8">class = 0</tspan></text></g>
<g id="n153" class="O3" transform="translate(385,430)"><rect x="-23" y="-13.5" width="46" height="27"/><text><tspan x="0" y="-8.2">BloodPressure ≤ 77.0</tspan><tspan x="0" y="-3.3">entropy = 0.985</tspan><tspan x="0" y="1.6">samples = 21</tspan><tspan x="0" y="6.5">value = [12, 9]</tspan><tspan x="0" y="11.4">class = 0</tspan></text></g>
<g id="n154" class="O10" transform="translate(432,430)"><rect x="-16.5" y="-11" width="33" height="22"/><text><tspan x="0" y="-5.9">entropy = 0.0</tspan><tspan x="0" y="-1">samples = 6</tspan><tspan x="0" y="3.9">value = [6, 0]</tspan><tspan x="0" y="8.8">class = 0</tspan></text></g>
<g id="n155" class="B10" transform="translate(592,430)"><rect x="-16.5" y="-11" width="33" height="22"/><text><tspan x="0" y="-5.9">entropy = 0.0</tspan><tspan x="0" y="-1">samples = 1</tspan><tspan x="0" y="3.9">value = [0, 1]</tspan><tspan x="0" y="8.8">class = 1</tspan></text></g>
<g id="n156" class="O10" transform="translate(628,430)"><rect x="-16.5" y="-11" width="33" height="22"/><text><tspan x="0" y="-5.9">entropy = 0.0</tspan><tspan x="0" y="-1">samples = 2</tspan><tspan x="0" y="3.9">value = [2, 0]</tspan><tspan x="0" y="8.8">class = 0</tspan></text></g>
<g id="n157" class="B6" transform="translate(793,430)"><rect x="-36" y="-13.5" width="72" height="27"/><text><tspan x="0" y="-8.2">DiabetesPedigreeFunction ≤ 0.183</tspan><tspan x="0" y="-3.3">entropy = 0.811</tspan><tspan x="0" y="1.6">samples = 4</tspan><tspan x="0" y="6.5">value = [1, 3]</tspan><tspan x="0" y="11.4">class = 1</tspan></text></g>
<g id="n158" class="O10" transform="translate(854,430)"><rect x="-16.5" y="-11" width="33" height="22"/><text><tspan x="0" y="-5.9">entropy = 0.0</tspan><tspan x="0" y="-1">samples = 4</tspan><tspan x="0" y="3.9">value = [4, 0]</tspan><tspan x="0" y="8.8">class = 0</tspan></text></g>
<g id="n159" class="B10" transform="translate(1062,430)"><rect x="-16.5" y="-11" width="33" height="22"/><text><tspan x="0" y="-5.9">entropy = 0.0</tspan><tspan x="0" y="-1">samples = 6</tspan><tspan x="0" y="3.9">value = [0, 6]</tspan><tspan x="0" y="8.8">class = 1</tspan></text></g>
<g id="n160" class="W" transform="translate(1102,430)"><rect x="-17" y="-13.5" width="34" height="27"/><text><tspan x="0" y="-8.2">Insulin ≤ 155.0</tspan><tspan x="0" y="-3.3">entropy = 1.0</tspan><tspan x="0" y="1.6">samples = 2</tspan><tspan x="0" y="6.5">value = [1, 1]</tspan><tspan x="0" y="11.4">class = 0</tspan></text></g>
<g id="n161" class="O10" transform="translate(73,467)"><rect x="-17.5" y="-11" width="35" height="22"/><text><tspan x="0" y="-5.9">entropy = 0.0</tspan><tspan x="0" y="-1">samples = 18</tspan><tspan x="0" y="3.9">value = [18, 0]</tspan><tspan x="0" y="8.8">class = 0</tspan></text></g>
<g id="n162" class="O45" transform="translate(114,467)"><rect x="-17" y="-13.5" width="34" height="27"/><text><tspan x="0" y="-8.2">BMI ≤ 37.95</tspan><tspan x="0" y="-3.3">entropy = 0.918</tspan><tspan x="0" y="1.6">samples = 3</tspan><tspan x="0" y="6.5">value = [2, 1]</tspan><tspan x="0" y="11.4">class = 0</tspan></text></g>
<g id="n163" class="O2" transform="translate(158,467)"><rect x="-17" y="-13.5" width="34" height="27"/><text><tspan x="0" y="-8.2">BMI ≤ 33.45</tspan><tspan x="0" y="-3.3">entropy = 0.991</tspan><tspan x="0" y="1.6">samples = 9</tspan><tspan x="0" y="6.5">value = [5, 4]</tspan><tspan x="0" y="11.4">class = 0</tspan></text></g>
<g id="n164" class="O10" transform="translate(198,467)"><rect x="-16.5" y="-11" width="33" height="22"/><text><tspan x="0" y="-5.9">entropy = 0.0</tspan><tspan x="0" y="-1">samples = 6</tspan><tspan x="0" y="3.9">value = [6, 0]</tspan><tspan x="0" y="8.8">class = 0</tspan></text></g>
<g id="n165" class="B6" transform="translate(353,467)"><rect x="-36" y="-13.5" width="72" height="27"/><text><tspan x="0" y="-8.2">DiabetesPedigreeFunction ≤ 0.205</tspan><tspan x="0" y="-3.3">entropy = 0.811</tspan><tspan x="0" y="1.6">samples = 8</tspan><tspan x="0" y="6.5">value = [2, 6]</tspan><tspan x="0" y="11.4">class = 1</tspan></text></g>
<g id="n166" class="O75" transform="translate(417,467)"><rect x="-18" y="-13.5" width="36" height="27"/><text><tspan x="0" y="-8.2">Glucose ≤ 109.5</tspan><tspan x="0" y="-3.3">entropy = 0.779</tspan><tspan x="0" y="1.6">samples = 13</tspan><tspan x="0" y="6.5">value = [10, 3]</tspan><tspan x="0" y="11.4">class = 0</tspan></text></g>
<g id="n167" class="O10" transform="translate(774,467)"><rect x="-16.5" y="-11" width="33" height="22"/><text><tspan x="0" y="-5.9">entropy = 0.0</tspan><tspan x="0" y="-1">samples = 1</tspan><tspan x="0" y="3.9">value = [1, 0]</tspan><tspan x="0" y="8.8">class = 0</tspan></text></g>
<g id="n168" class="B10" transform="translate(812,467)"><rect x="-16.5" y="-11" width="33" height="22"/><text><tspan x="0" y="-5.9">entropy = 0.0</tspan><tspan x="0" y="-1">samples = 3</tspan><tspan x="0" y="3.9">value = [0, 3]</tspan><tspan x="0" y="8.8">class = 1</tspan></text></g>
<g id="n169" class="O10" transform="translate(1082,467)"><rect x="-16.5" y="-11" width="33" height="22"/><text><tspan x="0" y="-5.9">entropy = 0.0</tspan><tspan x="0" y="-1">samples = 1</tspan><tspan x="0" y="3.9">value = [1, 0]</tspan><tspan x="0" y="8.8">class = 0</tspan></text></g>
<g id="n170" class="B10" transform="translate(1120,467)"><rect x="-16.5" y="-11" width="33" height="22"/><text><tspan x="0" y="-5.9">entropy = 0.0</tspan><tspan x="0" y="-1">samples = 1</tspan><tspan x="0" y="3.9">value = [0, 1]</tspan><tspan x="0" y="8.8">class = 1</tspan></text></g>
<g id="n171" class="O10" transform="translate(78,505)"><rect x="-16.5" y="-11" width="33" height="22"/><text><tspan x="0" y="-5.9">entropy = 0.0</tspan><tspan x="0" y="-1">samples = 2</tspan><tspan x="0" y="3.9">value = [2, 0]</tspan><tspan x="0" y="8.8">class = 0</tspan></text></g>
<g id="n172" class="B10" transform="translate(116,505)"><rect x="-16.5" y="-11" width="33" height="22"/><text><tspan x="0" y="-5.9">entropy = 0.0</tspan><tspan x="0" y="-1">samples = 1</tspan><tspan x="0" y="3.9">value = [0, 1]</tspan><tspan x="0" y="8.8">class = 1</tspan></text></g>
<g id="n173" class="B10" transform="translate(155,505)"><rect x="-16.5" y="-11" width="33" height="22"/><text><tspan x="0" y="-5.9">entropy = 0.0</tspan><tspan x="0" y="-1">samples = 2</tspan><tspan x="0" y="3.9">value = [0, 2]</tspan><tspan x="0" y="8.8">class = 1</tspan></text></g>
<g id="n174" class="O6" transform="translate(215,505)"><rect x="-36" y="-13.5" width="72" height="27"/><text><tspan x="0" y="-8.2">DiabetesPedigreeFunction ≤ 0.722</tspan><tspan x="0" y="-3.3">entropy = 0.863</tspan><tspan x="0" y="1.6">samples = 7</tspan><tspan x="0" y="6.5">value = [5, 2]</tspan><tspan x="0" y="11.4">class = 0</tspan></text></g>
<g id="n175" class="O10" transform="translate(315,505)"><rect x="-16.5" y="-11" width="33" height="22"/><text><tspan x="0" y="-5.9">entropy = 0.0</tspan><tspan x="0" y="-1">samples = 2</tspan><tspan x="0" y="3.9">value = [2, 0]</tspan><tspan x="0" y="8.8">class = 0</tspan></text></g>
<g id="n176" class="B10" transform="translate(353,505)"><rect x="-16.5" y="-11" width="33" height="22"/><text><tspan x="0" y="-5.9">entropy = 0.0</tspan><tspan x="0" y="-1">samples = 6</tspan><tspan x="0" y="3.9">value = [0, 6]</tspan><tspan x="0" y="8.8">class = 1</tspan></text></g>
<g id="n177" class="O3" transform="translate(415,505)"><rect x="-36" y="-13.5" width="72" height="27"/><text><tspan x="0" y="-8.2">DiabetesPedigreeFunction ≤ 0.272</tspan><tspan x="0" y="-3.3">entropy = 0.985</tspan><tspan x="0" y="1.6">samples = 7</tspan><tspan x="0" y="6.5">value = [4, 3]</tspan><tspan x="0" y="11.4">class = 0</tspan></text></g>
<g id="n178" class="O10" transform="translate(476,505)"><rect x="-16.5" y="-11" width="33" height="22"/><text><tspan x="0" y="-5.9">entropy = 0.0</tspan><tspan x="0" y="-1">samples = 6</tspan><tspan x="0" y="3.9">value = [6, 0]</tspan><tspan x="0" y="8.8">class = 0</tspan></text></g>
<g id="n179" class="O10" transform="translate(203,543)"><rect x="-16.5" y="-11" width="33" height="22"/><text><tspan x="0" y="-5.9">entropy = 0.0</tspan><tspan x="0" y="-1">samples = 5</tspan><tspan x="0" y="3.9">value = [5, 0]</tspan><tspan x="0" y="8.8">class = 0</tspan></text></g>
<g id="n180" class="B10" transform="translate(234,543)"><rect x="-16.5" y="-11" width="33" height="22"/><text><tspan x="0" y="-5.9">entropy = 0.0</tspan><tspan x="0" y="-1">samples = 2</tspan><tspan x="0" y="3.9">value = [0, 2]</tspan><tspan x="0" y="8.8">class = 1</tspan></text></g>
<g id="n181" class="B3" transform="translate(385,543)"><rect x="-36" y="-13.5" width="72" height="27"/><text><tspan x="0" y="-8.2">DiabetesPedigreeFunction ≤ 0.236</tspan><tspan x="0" y="-3.3">entropy = 0.971</tspan><tspan x="0" y="1.6">samples = 5</tspan><tspan x="0" y="6.5">value = [2, 3]</tspan><tspan x="0" y="11.4">class = 1</tspan></text></g>
<g id="n182" class="O10" transform="translate(446,543)"><rect x="-16.5" y="-11" width="33" height="22"/><text><tspan x="0" y="-5.9">entropy = 0.0</tspan><tspan x="0" y="-1">samples = 2</tspan><tspan x="0" y="3.9">value = [2, 0]</tspan><tspan x="0" y="8.8">class = 0</tspan></text></g>
<g id="n183" class="O45" transform="translate(363,580)"><rect x="-20" y="-13.5" width="40" height="27"/><text><tspan x="0" y="-8.2">Pregnancies ≤ 4.5</tspan><tspan x="0" y="-3.3">entropy = 0.918</tspan><tspan x="0" y="1.6">samples = 3</tspan><tspan x="0" y="6.5">value = [2, 1]</tspan><tspan x="0" y="11.4">class = 0</tspan></text></g>
<g id="n184" class="B10" transform="translate(407,580)"><rect x="-16.5" y="-11" width="33" height="22"/><text><tspan x="0" y="-5.9">entropy = 0.0</tspan><tspan x="0" y="-1">samples = 2</tspan><tspan x="0" y="3.9">value = [0, 2]</tspan><tspan x="0" y="8.8">class = 1</tspan></text></g>
<g id="n185" class="O10" transform="translate(345,617)"><rect x="-16.5" y="-11" width="33" height="22"/><text><tspan x="0" y="-5.9">entropy = 0.0</tspan><tspan x="0" y="-1">samples = 2</tspan><tspan x="0" y="3.9">value = [2, 0]</tspan><tspan x="0" y="8.8">class = 0</tspan></text></g>
<g id="n186" class="B10" transform="translate(383,617)"><rect x="-16.5" y="-11" width="33" height="22"/><text><tspan x="0" y="-5.9">entropy = 0.0</tspan><tspan x="0" y="-1">samples = 1</tspan><tspan x="0" y="3.9">value = [0, 1]</tspan><tspan x="0" y="8.8">class = 1</tspan></text></g>
</g>
</svg>
